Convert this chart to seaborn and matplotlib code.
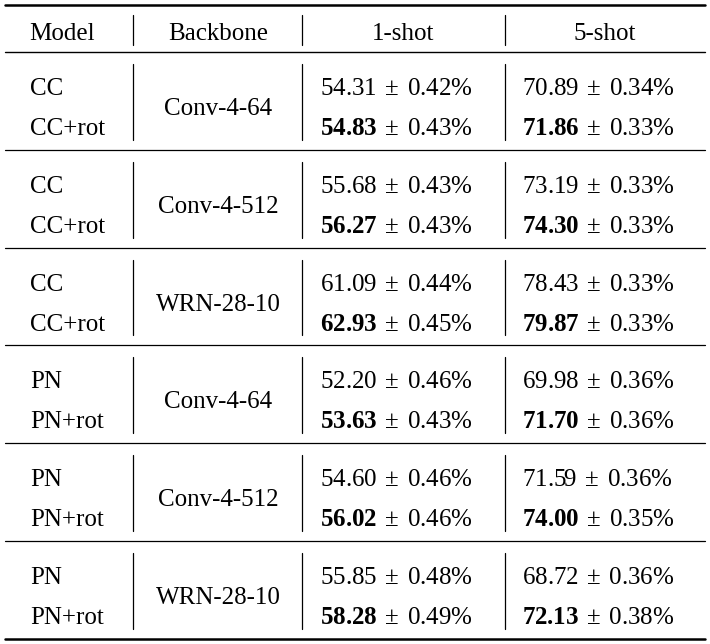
import matplotlib
matplotlib.use("Agg")
import matplotlib.pyplot as plt
import seaborn as sns

sns.set_theme(style="white")
plt.rcParams['font.family'] = ['Liberation Serif', 'DejaVu Serif']
plt.rcParams['text.color'] = 'black'
plt.rcParams['mathtext.fontset'] = 'custom'
plt.rcParams['mathtext.rm'] = 'Liberation Serif'
plt.rcParams['mathtext.it'] = 'Liberation Serif:italic'
plt.rcParams['mathtext.bf'] = 'Liberation Serif:bold'

headers = ["Model", "Backbone", "1-shot", "5-shot"]
models = [("CC", "CC+rot")] * 3 + [("PN", "PN+rot")] * 3
backbones = ["Conv-4-64", "Conv-4-512", "WRN-28-10", "Conv-4-64", "Conv-4-512", "WRN-28-10"]
one_shot_mean = [(54.31, 54.83), (55.68, 56.27), (61.09, 62.93), (52.20, 53.63), (54.60, 56.02), (55.85, 58.28)]
one_shot_std = [(0.42, 0.43), (0.43, 0.43), (0.44, 0.45), (0.46, 0.43), (0.46, 0.46), (0.48, 0.49)]
five_shot_mean = [(70.89, 71.86), (73.19, 74.30), (78.43, 79.87), (69.98, 71.70), (71.59, 74.00), (68.72, 72.13)]
five_shot_std = [(0.34, 0.33), (0.33, 0.33), (0.33, 0.33), (0.36, 0.36), (0.36, 0.35), (0.36, 0.38)]

W, H = 710, 644
fig = plt.figure(figsize=(W / 100, H / 100), dpi=100)
ax = fig.add_axes([0, 0, 1, 1])
ax.set_xlim(0, W)
ax.set_ylim(H, 0)
ax.axis('off')

fs = 18
vx = [133, 302, 505]
ax.plot([5, 705], [5, 5], color='black', lw=1.8)
ax.plot([5, 705], [52, 52], color='black', lw=1.0)
ax.plot([5, 705], [639, 639], color='black', lw=1.8)
for x in vx:
    ax.plot([x, x], [15, 45], color='black', lw=0.9)

hx = [62, 218, 403, 605]
for x, h in zip(hx, headers):
    ax.text(x, 34, h, ha='center', va='center', fontsize=fs, color='black')


def fmt(m, s, bold):
    if bold:
        return r"$\mathbf{%.2f}\;\pm\;%.2f\%%$" % (m, s)
    return r"$%.2f\;\pm\;%.2f\%%$" % (m, s)


top = 52
gh = 97.8
for g in range(6):
    y0 = top + g * gh
    y1 = y0 + gh
    r1, r2 = y0 + 37, y0 + 77
    if g < 5:
        ax.plot([5, 705], [y1, y1], color='black', lw=0.9)
    for x in vx:
        ax.plot([x, x], [y0 + 12, y1 - 10], color='black', lw=0.9)
    ax.text(30, r1, models[g][0], ha='left', va='center', fontsize=fs, color='black')
    ax.text(30, r2, models[g][1], ha='left', va='center', fontsize=fs, color='black')
    ax.text(218, (r1 + r2) / 2, backbones[g], ha='center', va='center', fontsize=fs, color='black')
    for i, r in enumerate([r1, r2]):
        ax.text(320, r, fmt(one_shot_mean[g][i], one_shot_std[g][i], i == 1),
                ha='left', va='center', fontsize=fs, color='black')
        ax.text(522, r, fmt(five_shot_mean[g][i], five_shot_std[g][i], i == 1),
                ha='left', va='center', fontsize=fs, color='black')

fig.savefig("out.png", dpi=100)
